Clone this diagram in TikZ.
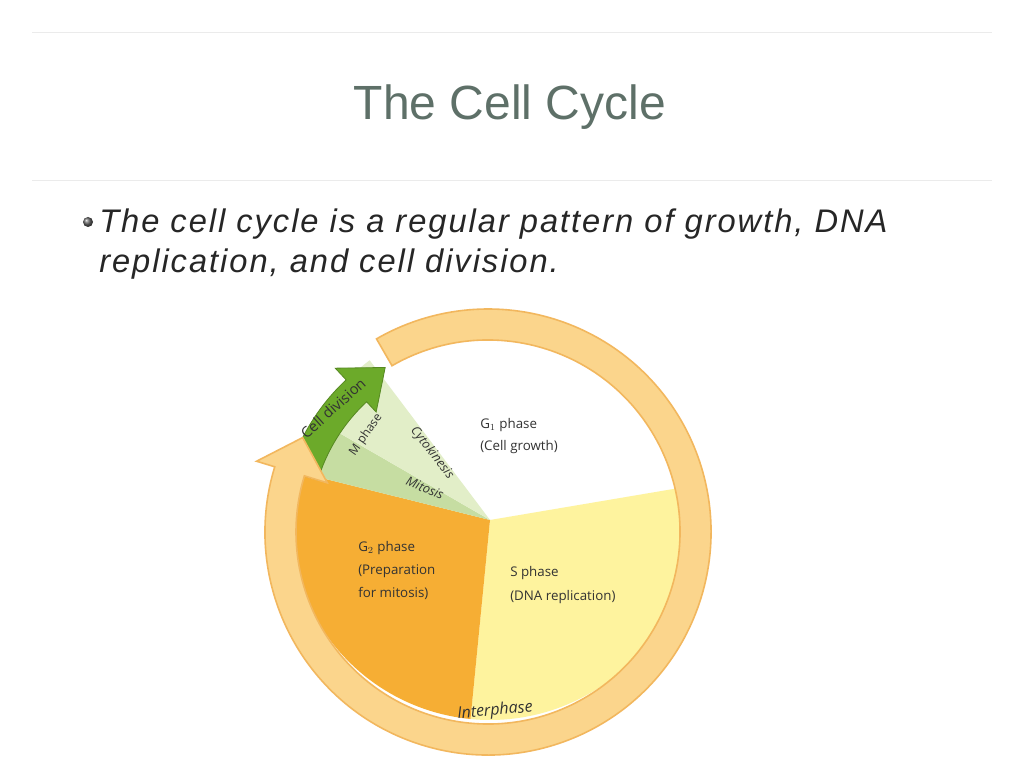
\documentclass[tikz,border=0pt]{standalone}
\usepackage{fontspec}
\setmainfont{Open Sans}
\newfontfamily\slidefont{Liberation Sans}
\newfontfamily\bulletfont[LetterSpace=6]{Liberation Sans}
\usepackage{tikz}
\definecolor{titlegrey}{HTML}{5E7068}
\definecolor{ringfill}{HTML}{FBD58C}
\definecolor{ringedge}{HTML}{F2B75E}
\definecolor{gtwo}{HTML}{F6AE34}
\definecolor{sphase}{HTML}{FEF39E}
\definecolor{mitgreen}{HTML}{C6DDA2}
\definecolor{lightgreen}{HTML}{E2EEC8}
\definecolor{arrowgreen}{HTML}{6CAA2A}
\begin{document}
\begin{tikzpicture}[x=0.75pt, y=0.75pt, label/.style={font=\fontsize{10}{12}\selectfont, text=black!80, inner sep=0pt}]
            \useasboundingbox (0,0) rectangle (1024,768);
            \fill[white] (0,0) rectangle (1024,768);
            \draw[black!8] (32,736) -- (992,736);
            \draw[black!8] (32,588) -- (992,588);
            \node[text=titlegrey, font=\slidefont\fontsize{36}{40}\selectfont] (title) at (510,661) {The Cell Cycle};
            \shade[ball color=black!60] (88,546) circle (5);
            \node[anchor=base west, font=\bulletfont\fontsize{24.5}{28}\selectfont\itshape, text=black!85, inner sep=0pt] (line1) at (99,535) {The cell cycle is a regular pattern of growth, DNA};
            \node[anchor=base west, font=\bulletfont\fontsize{24.5}{28}\selectfont\itshape, text=black!85, inner sep=0pt] (line2) at (99,495) {replication, and cell division.};

            % pie
            \begin{scope}[shift={(490,248)}]
                \fill[sphase] (0,0) -- (-95.6:200) arc[start angle=-95.6, end angle=9.6, radius=200] -- cycle;
                \fill[gtwo] (0,0) -- (166:200) arc[start angle=166, end angle=264.4, radius=200] -- cycle;
                \fill[mitgreen] (0,0) -- (150:200) arc[start angle=150, end angle=166, radius=200] -- cycle;
                \fill[lightgreen] (0,0) -- (127:200) arc[start angle=127, end angle=150, radius=200] -- cycle;
            \end{scope}

            % arrows
            \begin{scope}[shift={(488,236)}]
                \filldraw[fill=arrowgreen, draw=arrowgreen!80!black, line width=0.6pt] (163:178) arc[start angle=163, end angle=133, radius=178] -- (133:164) -- (122:194) -- (133:224) -- (133:208) arc[start angle=133, end angle=163, radius=208] -- cycle;
                \filldraw[fill=ringfill, draw=ringedge, line width=1.2pt] (120:192) arc[start angle=120, end angle=-197, radius=192] -- (-197:168) -- (-207:208) -- (-197:242) -- (-197:223) arc[start angle=-197, end angle=120, radius=223] -- cycle;
            \end{scope}

            \node[label, anchor=west] (g1) at (480,343) {G$_1$ phase};
            \node[label, anchor=west] (g1b) at (480,321) {(Cell growth)};
            \node[label, anchor=west] (s) at (510,195) {S phase};
            \node[label, anchor=west] (sb) at (510,171) {(DNA replication)};
            \node[label, anchor=west] (g2) at (358,220) {G$_2$ phase};
            \node[label, anchor=west] (g2b) at (358,197) {(Preparation};
            \node[label, anchor=west] (g2c) at (358,175) {for mitosis)};
            \node[label, font=\fontsize{12}{14}\selectfont\itshape, rotate=5] (inter) at (495,57) {Interphase};
            \node[label, font=\fontsize{11}{13}\selectfont, rotate=42] (division) at (333,360) {Cell division};
            \node[label, font=\fontsize{9}{11}\selectfont, rotate=55] (mphase) at (366,333) {M phase};
            \node[label, font=\fontsize{9.5}{12}\selectfont\itshape, rotate=-52] (cyto) at (432,315) {Cytokinesis};
            \node[label, font=\fontsize{9.5}{12}\selectfont\itshape, rotate=-22] (mito) at (425,280) {Mitosis};
        \end{tikzpicture}
\end{document}
